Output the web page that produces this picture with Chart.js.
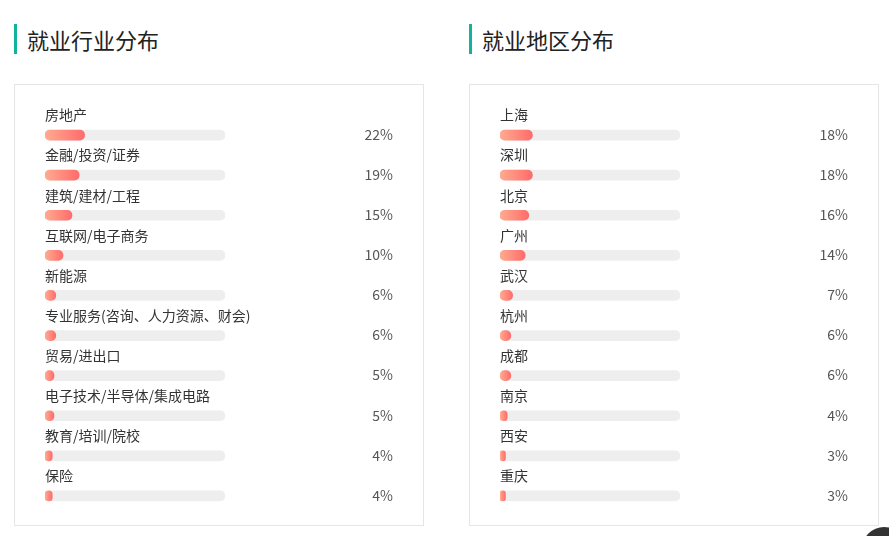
<!DOCTYPE html>
<html>
<head>
<meta charset="utf-8">
<script src="https://cdn.jsdelivr.net/npm/chart.js@4.4.1/dist/chart.umd.min.js"></script>
<style>
  html,body{margin:0;padding:0;background:#fff;}
  body{width:889px;height:536px;position:relative;overflow:hidden;font-family:"Noto Sans CJK SC","Noto Sans",sans-serif;color:#333;}
  .title{position:absolute;top:24px;height:30px;line-height:30px;font-size:22px;color:#222;padding-left:10px;border-left:3px solid #12b39d;}
  .box{position:absolute;top:84px;width:408px;height:440px;border:1px solid #e5e5e5;}
  .box canvas{position:absolute;left:0;top:0;}
  .fab{position:absolute;left:862px;top:527px;width:44px;height:44px;border-radius:50%;background:#333;}
</style>
</head>
<body>
  <div class="title" style="left:14px">就业行业分布</div>
  <div class="title" style="left:469px">就业地区分布</div>
  <div class="box" style="left:14px"><canvas id="indCanvas" width="408" height="440"></canvas></div>
  <div class="box" style="left:469px"><canvas id="regCanvas" width="408" height="440"></canvas></div>
  <div class="fab"></div>
<script>
const industries = ['房地产','金融/投资/证券','建筑/建材/工程','互联网/电子商务','新能源','专业服务(咨询、人力资源、财会)','贸易/进出口','电子技术/半导体/集成电路','教育/培训/院校','保险'];
const industryPct = [22,19,15,10,6,6,5,5,4,4];
const regions = ['上海','深圳','北京','广州','武汉','杭州','成都','南京','西安','重庆'];
const regionPct = [18,18,16,14,7,6,6,4,3,3];

const FONT = '"Noto Sans CJK SC","Noto Sans",sans-serif';

function barFill(c){
  const chart = c.chart;
  if(!chart.chartArea) return '#ff8a7c';
  const xs = chart.scales.x;
  const x0 = xs.getPixelForValue(0), x1 = xs.getPixelForValue(c.dataset.data[c.dataIndex]);
  const g = chart.ctx.createLinearGradient(x0,0,Math.max(x1,x0+1),0);
  g.addColorStop(0,'#ffab90');
  g.addColorStop(1,'#ff6b6b');
  return g;
}

// row labels above each bar + percentage at the right
const rowText = {
  id:'rowText',
  afterDatasetsDraw(chart){
    const ctx = chart.ctx, xs = chart.scales.x, ys = chart.scales.y;
    const vals = chart.data.datasets[0].data;
    ctx.save();
    ctx.font = '14px '+FONT;
    ctx.textBaseline = 'middle';
    chart.data.labels.forEach((lab,i)=>{
      const y = ys.getPixelForValue(i);
      ctx.fillStyle = '#333';
      ctx.textAlign = 'left';
      ctx.fillText(lab, xs.getPixelForValue(0), y-20);
      ctx.fillStyle = '#555';
      ctx.textAlign = 'right';
      ctx.fillText(vals[i]+'%', chart.width-30, y-0.5);
    });
    ctx.restore();
  }
};

function makeChart(id, labels, values){
  return new Chart(document.getElementById(id),{
    type:'bar',
    data:{labels, datasets:[
      {data:values, backgroundColor:barFill, borderRadius:5, borderSkipped:false, barThickness:10, grouped:false, order:1},
      {data:labels.map(()=>100), backgroundColor:'#eeeeee', borderRadius:5, borderSkipped:false, barThickness:10, grouped:false, order:2}
    ]},
    options:{
      indexAxis:'y', responsive:false, animation:false,
      layout:{padding:{left:30,right:198,top:30,bottom:9}},
      plugins:{legend:{display:false},tooltip:{enabled:false}},
      scales:{
        x:{display:false,min:0,max:100},
        y:{display:false}
      }
    },
    plugins:[rowText]
  });
}

makeChart('indCanvas', industries, industryPct);
makeChart('regCanvas', regions, regionPct);
</script>
</body>
</html>
